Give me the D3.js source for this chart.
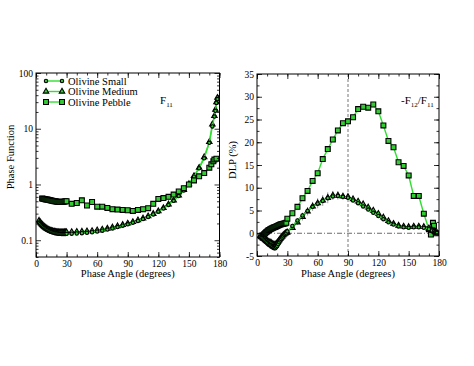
<!DOCTYPE html>
<html><head><meta charset="utf-8">
<script src="https://cdn.jsdelivr.net/npm/d3@7"></script>
<style>
body{margin:0;background:#fff;}
text{font-family:"Liberation Serif","DejaVu Serif",serif;fill:#000;}
</style></head>
<body><svg id="c" width="474" height="366"></svg>
<script>
// ---------- DATA ----------
const seriesNames = ["Olivine Small", "Olivine Medium", "Olivine Pebble"];
const xTicks = [0, 30, 60, 90, 120, 150, 180];
const f11Ticks = [0.1, 1, 10, 100];
const f11TickLabels = ["0.1", "1", "10", "100"];
const dlpTicks = [-5, 0, 5, 10, 15, 20, 25, 30, 35];

// phase angles (degrees)
const angSmallMed = [3,4,5,6,7,8,9,10,11,12,13,14,15,16,17,18,19,20,21,22,23,24,25,26,27,28,29,
  30,35,40,45,50,55,60,65,70,75,80,85,90,95,100,105,110,115,120,125,130,135,140,145,150,155,160,165,170,173,175,176,177,178];
const angPebble = [6,7,8,9,10,11,12,13,14,15,16,17,18,19,20,21,22,23,24,25,26,27,28,29,
  30,35,40,45,50,55,60,65,70,75,80,85,90,95,100,105,110,115,120,125,130,135,140,145,150,155,160,165,170,172,174,175,177];

// F11 (phase function)
const f11Small = [0.205,0.195,0.185,0.178,0.172,0.166,0.161,0.157,0.153,0.150,0.147,0.144,0.141,0.139,0.137,0.135,0.134,0.133,0.132,0.131,0.130,0.130,0.129,0.129,0.129,0.129,0.129,
  0.130,0.131,0.132,0.134,0.136,0.139,0.143,0.148,0.155,0.163,0.172,0.182,0.193,0.206,0.222,0.240,0.262,0.290,0.325,0.37,0.43,0.51,0.62,0.78,1.0,1.38,1.95,2.95,5.6,11,16.5,21,29,34];
const f11Medium = [0.225,0.212,0.200,0.191,0.183,0.176,0.170,0.165,0.160,0.156,0.153,0.150,0.148,0.146,0.144,0.143,0.142,0.141,0.140,0.140,0.139,0.139,0.139,0.139,0.139,0.140,0.140,
  0.140,0.141,0.142,0.143,0.145,0.147,0.151,0.156,0.162,0.170,0.179,0.189,0.200,0.213,0.229,0.247,0.270,0.298,0.333,0.38,0.44,0.52,0.64,0.80,1.02,1.42,2.0,3.1,5.8,12,17,22,30,36];
const f11Pebble = [0.56,0.555,0.55,0.545,0.54,0.535,0.53,0.525,0.52,0.515,0.51,0.505,0.50,0.50,0.495,0.49,0.49,0.485,0.485,0.485,0.49,0.49,0.495,0.50,
  0.50,0.45,0.465,0.52,0.42,0.485,0.40,0.40,0.38,0.36,0.355,0.35,0.345,0.335,0.35,0.36,0.375,0.45,0.55,0.57,0.60,0.66,0.75,0.86,1.0,1.18,1.4,1.6,2.0,2.3,2.6,2.8,2.9];

// DLP (%) = -F12/F11
const dlpSmall = [-0.8,-1.0,-1.2,-1.4,-1.6,-1.8,-2.0,-2.2,-2.4,-2.6,-2.7,-2.9,-3.0,-3.2,-3.3,-3.3,-3.1,-2.8,-2.4,-2.0,-1.6,-1.3,-1.0,-0.7,-0.4,-0.2,0.0,
  0.4,1.6,2.8,3.9,4.9,5.8,6.5,7.1,7.7,8.1,8.2,8.0,7.8,7.2,6.6,5.9,5.2,4.5,3.8,3.1,2.4,1.9,1.5,1.3,1.2,1.3,1.3,1.2,0.9,0.6,0.4,0.2,0.1,0.0];
const dlpMedium = [-0.6,-0.8,-0.9,-1.1,-1.2,-1.3,-1.5,-1.6,-1.8,-1.9,-2.0,-2.1,-2.3,-2.4,-2.5,-2.5,-2.3,-2.1,-1.8,-1.5,-1.2,-0.9,-0.7,-0.4,-0.2,0.0,0.1,
  0.2,1.2,2.4,3.6,4.8,5.9,6.6,7.2,7.8,8.3,8.3,8.1,8.0,7.5,7.0,6.4,5.7,5.0,4.3,3.5,2.7,2.1,1.7,1.5,1.4,1.5,1.5,1.4,1.1,0.7,0.5,0.3,0.2,0.1];
const dlpMediumErr = [0,0,0,0,0,0,0,0,0,0,0,0,0,0,0,0,0,0,0,0,0,0,0,0,0,0,0,
  0.4,0.5,0.6,0.8,0.9,1.0,1.1,1.2,1.2,1.0,0.9,0.8,0.7,0.6,0.6,0.5,0.5,0.4,0.4,0.3,0.3,0.3,0.3,0.2,0.2,0.2,0.2,0.2,0.2,0.2,0.2,0.2,0.2,0.2];
const dlpPebble = [-0.5,-0.2,0.0,0.2,0.4,0.6,0.7,0.9,1.0,1.1,1.2,1.3,1.4,1.5,1.6,1.7,1.8,1.9,2.0,2.05,2.1,2.15,2.2,2.3,
  3.2,4.4,5.8,7.7,9.3,11.5,13.2,16.3,18.5,20.6,22.6,24.2,24.6,25.5,27.3,27.8,27.6,28.3,26.8,23.7,20.3,18.9,15.6,14.8,12.7,8.2,8.2,4.3,0.9,-0.3,2.3,1.6,0.0];

// ---------- DRAWING ----------
const svg = d3.select("#c");
svg.append("rect").attr("width",474).attr("height",366).attr("fill","#fff");
const LINE = "#2fe02f", FILL = "#33cc33";

function symbolFor(i){ return [d3.symbolCircle, d3.symbolTriangle, d3.symbolSquare][i]; }
function sizeFor(i){ return [9, 13, 24][i]; }

function drawPanel(o){
  const g = svg.append("g");
  const x = o.x, y = o.y;
  const [x0,x1] = x.range(), [y0,y1] = y.range();
  const clipId = "clip"+o.id;
  svg.append("clipPath").attr("id",clipId).append("rect")
     .attr("x",x0).attr("y",y1).attr("width",x1-x0).attr("height",y0-y1);

  (o.refs||[]).forEach(f=>f(g));

  const plot = g.append("g").attr("clip-path",`url(#${clipId})`);
  o.series.forEach((s)=>{
    const pts = s.ang.map((a,k)=>({a, v:s.val[k], e: s.err? s.err[k]:0}));
    if (s.err){
      plot.append("g").selectAll("line").data(pts.filter(p=>p.e>0)).join("line")
        .attr("x1",p=>x(p.a)).attr("x2",p=>x(p.a))
        .attr("y1",p=>y(p.v-p.e)).attr("y2",p=>y(p.v+p.e))
        .attr("stroke","#888").attr("stroke-width",0.8);
    }
    plot.append("path").datum(pts)
      .attr("d", d3.line().x(p=>x(p.a)).y(p=>y(p.v)))
      .attr("fill","none").attr("stroke",LINE).attr("stroke-width",1.4);
    plot.append("g").selectAll("path").data(pts).join("path")
      .attr("transform",p=>`translate(${x(p.a)},${y(p.v)})`)
      .attr("d", d3.symbol().type(symbolFor(s.idx)).size(sizeFor(s.idx)))
      .attr("fill",FILL).attr("stroke","#000").attr("stroke-width",1.1);
  });

  g.append("rect").attr("x",x0).attr("y",y1).attr("width",x1-x0).attr("height",y0-y1)
    .attr("fill","none").attr("stroke","#000").attr("stroke-width",1);

  const xMinor = d3.range(0,181,10);
  const axB = d3.axisBottom(x).tickValues(xTicks).tickSize(-5).tickFormat(d3.format("d")).tickPadding(3);
  const axBm = d3.axisBottom(x).tickValues(xMinor).tickSize(-2.5).tickFormat("");
  const axT = d3.axisTop(x).tickValues(xTicks).tickSize(-5).tickFormat("");
  const axTm = d3.axisTop(x).tickValues(xMinor).tickSize(-2.5).tickFormat("");
  g.append("g").attr("transform",`translate(0,${y0})`).call(axB);
  g.append("g").attr("transform",`translate(0,${y0})`).call(axBm);
  g.append("g").attr("transform",`translate(0,${y1})`).call(axT);
  g.append("g").attr("transform",`translate(0,${y1})`).call(axTm);

  const axL = d3.axisLeft(y).tickValues(o.yTicks).tickSize(-5).tickFormat((d,k)=>o.yLabels[k]).tickPadding(3);
  const axLm = d3.axisLeft(y).tickValues(o.yMinor).tickSize(-2.5).tickFormat("");
  const axR = d3.axisRight(y).tickValues(o.yTicks).tickSize(-5).tickFormat("");
  const axRm = d3.axisRight(y).tickValues(o.yMinor).tickSize(-2.5).tickFormat("");
  g.append("g").attr("transform",`translate(${x0},0)`).call(axL);
  g.append("g").attr("transform",`translate(${x0},0)`).call(axLm);
  g.append("g").attr("transform",`translate(${x1},0)`).call(axR);
  g.append("g").attr("transform",`translate(${x1},0)`).call(axRm);
  g.selectAll(".domain").remove();
  g.selectAll(".tick line").attr("stroke","#000").attr("stroke-width",0.8);
  g.selectAll(".tick text").style("font-family",'"Liberation Serif",serif').style("font-size","9.5px");

  g.append("text").attr("x",(x0+x1)/2).attr("y",277).attr("text-anchor","middle")
    .style("font-size","10.5px").text("Phase Angle (degrees)");
  g.append("text").attr("transform",`translate(${o.ylabX},${o.ylabY}) rotate(-90)`)
    .attr("text-anchor","middle").style("font-size","10.5px").text(o.ylab);
}

const xL = d3.scaleLinear([0,180],[36,219.5]);
const yL = d3.scaleLog([0.05,100],[257,73]);
const logMinor = [];
[0.01,0.1,1,10].forEach(b=>{ for(let m=2;m<=9;m++){ const v=b*m; if(v>=0.05 && v<=100) logMinor.push(v);} });

drawPanel({id:"L", x:xL, y:yL, yTicks:f11Ticks, yLabels:f11TickLabels, yMinor:logMinor,
  ylab:"Phase Function", ylabX:14, ylabY:157,
  series:[
    {idx:1, ang:angSmallMed, val:f11Medium},
    {idx:0, ang:angSmallMed, val:f11Small},
    {idx:2, ang:angPebble, val:f11Pebble}
  ]});

const xR = d3.scaleLinear([0,180],[257,439]);
const yR = d3.scaleLinear([-5,35],[256,74]);
drawPanel({id:"R", x:xR, y:yR, yTicks:dlpTicks, yLabels:dlpTicks.map(String),
  yMinor:d3.range(-5,35.1,2.5), ylab:"DLP (%)", ylabX:236, ylabY:160,
  refs:[
    g=>g.append("line").attr("x1",xR(90)).attr("x2",xR(90)).attr("y1",yR(35)).attr("y2",yR(-5))
        .attr("stroke","#777").attr("stroke-width",1).attr("stroke-dasharray","3,2"),
    g=>g.append("line").attr("x1",xR(0)).attr("x2",xR(180)).attr("y1",yR(0)).attr("y2",yR(0))
        .attr("stroke","#444").attr("stroke-width",0.8).attr("stroke-dasharray","5,2,1,2")
  ],
  series:[
    {idx:2, ang:angPebble, val:dlpPebble},
    {idx:1, ang:angSmallMed, val:dlpMedium, err:dlpMediumErr},
    {idx:0, ang:angSmallMed, val:dlpSmall}
  ]});

// legend
const leg = svg.append("g");
seriesNames.forEach((n,i)=>{
  const yy = [81, 91.5, 102][i];
  leg.append("line").attr("x1",46).attr("x2",62).attr("y1",yy).attr("y2",yy)
     .attr("stroke",LINE).attr("stroke-width",1.4);
  [46,62].forEach(xx=>leg.append("path").attr("transform",`translate(${xx},${yy})`)
     .attr("d",d3.symbol().type(symbolFor(i)).size(sizeFor(i)))
     .attr("fill",FILL).attr("stroke","#000").attr("stroke-width",1.1));
  leg.append("text").attr("x",68).attr("y",yy+3.5).style("font-size","10.5px").text(n);
});

// annotations
const a1 = svg.append("text").attr("x",160).attr("y",104).style("font-size","11px");
a1.append("tspan").text("F");
a1.append("tspan").attr("dy",3).style("font-size","7px").text("11");
const a2 = svg.append("text").attr("x",401).attr("y",104).style("font-size","11px");
a2.append("tspan").text("-F");
a2.append("tspan").attr("dy",3).style("font-size","7px").text("12");
a2.append("tspan").attr("dy",-3).text("/F");
a2.append("tspan").attr("dy",3).style("font-size","7px").text("11");
</script></body></html>
